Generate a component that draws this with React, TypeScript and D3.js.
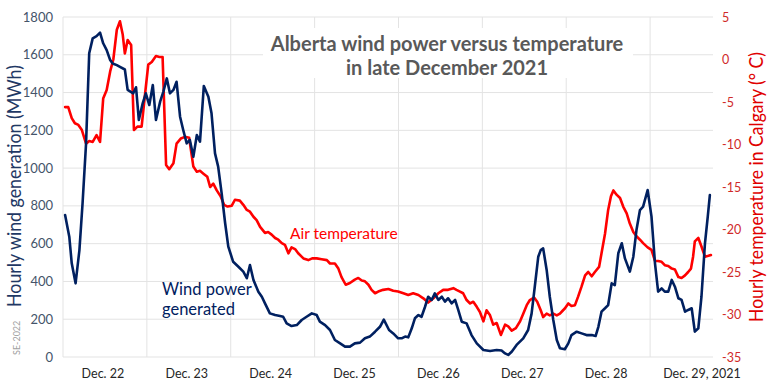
import React from "react";
import * as d3 from "d3";

// Hours since Dec 22 00:00 and wind generation (MWh)
const windHours = [0.1,1.3,2.0,3.1,4.2,5.1,6.1,7.0,8.0,9.1,10.1,11.0,12.0,13.0,13.7,14.9,15.8,17.2,18.0,18.9,19.6,20.4,21.2,22.3,23.2,24.2,25.2,26.1,27.3,28.2,29.2,30.1,31.1,32.0,33.0,33.9,34.9,35.8,36.8,37.8,38.7,39.8,41.1,42.0,43.0,43.9,44.9,45.9,46.8,48.2,49.7,51.1,52.1,53.0,54.0,55.4,56.4,57.3,58.7,60.2,61.6,62.5,63.5,64.9,66.4,67.8,69.2,70.7,72.1,73.0,74.5,75.9,77.3,78.8,80.2,81.6,83.0,84.5,85.9,87.3,88.8,90.2,91.3,92.8,94.0,95.4,96.4,97.4,98.3,99.3,100.2,101.2,102.1,103.1,104.0,105.0,105.9,106.9,107.9,108.8,109.7,110.7,111.7,112.6,113.6,115.0,116.4,117.9,119.8,121.7,123.6,125.0,126.0,126.9,127.9,129.3,131.2,132.6,133.6,134.5,135.5,136.2,136.9,137.9,138.8,139.8,140.8,141.7,143.1,144.1,145.0,146.5,147.9,149.3,150.8,151.9,152.7,153.6,154.6,155.5,156.5,157.4,158.4,159.4,160.3,161.7,162.7,163.6,164.6,165.5,166.8,167.9,168.9,169.8,170.8,171.7,172.7,173.7,174.6,175.6,176.5,177.5,178.4,179.4,180.3,181.3,182.2,183.2,184.0,184.6];
const windValues = [752,637,496,390,566,814,1131,1608,1687,1699,1717,1661,1625,1572,1554,1545,1536,1522,1414,1404,1396,1428,1255,1343,1396,1334,1440,1255,1352,1404,1475,1396,1414,1457,1272,1202,1131,1149,1060,1175,1140,1435,1378,1290,1078,1008,866,708,584,504,478,452,417,487,408,346,319,284,231,222,217,213,178,164,169,196,213,231,222,187,169,143,90,72,55,55,72,76,99,108,134,160,198,143,125,99,99,108,104,152,205,222,213,266,319,302,337,302,319,293,311,284,302,249,187,178,116,72,37,32,37,34,19,11,28,64,99,143,231,372,531,566,575,461,319,196,90,46,41,72,116,134,125,116,116,111,160,240,258,275,390,381,549,602,522,452,531,672,778,796,884,743,496,346,363,346,346,408,372,311,302,240,249,258,134,152,319,602,743,857];

// Hours since Dec 22 00:00 and air temperature in Calgary (°C)
const tempHours = [0.1,1.0,2.0,2.9,3.9,4.9,6.1,7.0,8.0,9.1,10.1,11.0,12.0,13.0,13.9,14.9,15.8,16.6,17.2,18.0,19.0,19.8,20.8,22.0,23.0,23.9,24.9,26.1,27.1,28.0,29.0,29.9,31.1,32.0,33.2,34.4,35.6,36.8,37.8,38.7,39.6,40.8,41.6,42.5,43.5,44.6,45.6,46.6,47.8,48.7,50.1,51.1,52.1,53.0,54.0,54.9,55.9,57.3,58.2,59.2,60.2,61.1,62.1,63.0,64.0,64.9,65.9,66.8,68.3,69.7,70.8,72.1,73.5,75.0,75.9,77.3,78.3,79.2,80.4,81.6,83.0,84.0,85.0,85.9,86.9,87.8,88.8,89.7,91.1,92.6,94.0,95.4,96.9,98.3,99.7,101.2,102.6,104.0,105.5,106.9,108.3,109.7,111.2,112.1,113.1,114.0,115.0,116.0,116.9,117.9,118.8,119.8,120.7,121.7,122.6,123.6,124.8,126.0,126.9,127.9,129.1,130.3,131.2,132.2,133.1,134.3,135.2,136.2,136.9,137.9,138.8,139.8,140.8,141.7,142.6,143.1,144.1,145.0,146.0,146.9,147.9,148.9,149.8,150.8,151.7,152.9,153.6,154.6,155.5,156.3,157.0,157.9,158.9,159.8,160.8,161.7,162.7,163.6,164.6,165.5,166.8,167.9,168.9,169.8,170.8,171.7,172.7,173.7,174.6,175.6,176.5,177.5,178.4,179.2,179.8,180.3,181.3,182.2,183.2,184.2,184.9];
const tempValues = [-5.6,-5.6,-6.9,-7.5,-7.7,-8.3,-9.9,-9.6,-9.7,-8.9,-9.7,-4.6,-3.6,-1.4,0.0,3.5,4.5,2.9,0.7,2.3,1.7,-8.3,-7.9,-7.9,-4.0,-0.6,-0.3,0.4,0.3,0.3,-12.4,-12.9,-12.2,-9.9,-9.3,-9.1,-9.2,-12.6,-13.2,-13.1,-13.4,-13.8,-15.0,-14.6,-15.4,-16.1,-17.1,-17.3,-17.2,-16.5,-16.6,-17.1,-17.7,-17.9,-18.5,-18.9,-19.7,-20.4,-20.3,-20.6,-21.0,-21.2,-21.6,-21.8,-22.8,-22.1,-22.3,-22.8,-23.4,-23.6,-23.4,-23.4,-23.5,-23.6,-24.0,-24.0,-24.6,-25.6,-26.5,-26.3,-25.9,-25.7,-26.0,-26.1,-26.5,-27.1,-27.5,-27.3,-27.1,-27.0,-27.2,-27.3,-27.5,-27.7,-27.5,-27.7,-28.1,-28.6,-28.1,-27.5,-27.1,-27.1,-26.9,-27.1,-27.3,-27.5,-28.3,-28.7,-28.5,-29.1,-29.7,-30.8,-29.5,-30.1,-31.2,-31.0,-32.4,-31.2,-31.4,-31.9,-31.6,-30.8,-29.9,-28.9,-28.3,-28.0,-28.5,-29.5,-30.3,-29.9,-30.1,-29.9,-30.1,-29.9,-29.5,-29.3,-28.7,-29.0,-28.9,-27.9,-26.7,-25.4,-25.0,-25.5,-25.0,-24.4,-22.8,-20.5,-17.7,-16.1,-15.4,-15.9,-16.3,-17.3,-18.1,-19.3,-20.3,-20.8,-21.2,-21.6,-22.1,-22.4,-23.7,-23.7,-23.8,-24.2,-24.3,-24.6,-24.7,-25.6,-25.7,-25.4,-25.0,-24.6,-23.2,-21.4,-21.0,-22.0,-23.2,-23.1,-23.0];

const dayLabels = ["Dec. 22", "Dec. 23", "Dec. 24", "Dec. 25", "Dec .26", "Dec. 27", "Dec. 28", "Dec. 29, 2021"];
const windTicks = [0, 200, 400, 600, 800, 1000, 1200, 1400, 1600, 1800];
const tempTicks = [-35, -30, -25, -20, -15, -10, -5, 0, 5];
const titleLines = ["Alberta wind power versus temperature", "in late December 2021"];

const W = 768, H = 382;
const left = 63, right = 713, top = 17, bottom = 357;
const font = "Lato, 'Open Sans', sans-serif";
const navy = "#002060";
const red = "#ff0000";

export default function App() {
  const x = d3.scaleLinear().domain([-0.5, 185.5]).range([left, right]);
  const yW = d3.scaleLinear().domain([0, 1800]).range([bottom, top]);
  const yT = d3.scaleLinear().domain([-35, 5]).range([bottom, top]);

  const windLine = d3.line<number>().x((_, i) => x(windHours[i])).y((d) => yW(d));
  const tempLine = d3.line<number>().x((_, i) => x(tempHours[i])).y((d) => yT(d));

  const dayBounds = d3.range(0, 8).map((k) => x(24 * k - 0.5));

  return (
    <svg width={W} height={H} style={{ position: "absolute", left: 0, top: 0, background: "#fff" }} fontFamily={font}>
      <rect x={0} y={0} width={W} height={H} fill="#fff" />
      {windTicks.map((t) => (
        <line key={"h" + t} x1={left} x2={right} y1={yW(t)} y2={yW(t)} stroke="#e3e3e3" strokeWidth={1} />
      ))}
      {dayBounds.map((bx, i) => (
        <line key={"v" + i} x1={bx} x2={bx} y1={top} y2={bottom} stroke="#e3e3e3" strokeWidth={1} />
      ))}
      <rect x={263} y={28} width={370} height={50} fill="#fff" />
      {titleLines.map((t, i) => (
        <text key={t} x={447} y={51 + i * 24} textAnchor="middle" fontSize={20} fontWeight={700} fill="#595959">{t}</text>
      ))}

      <path d={tempLine(tempValues) || ""} fill="none" stroke={red} strokeWidth={2.6} strokeLinejoin="round" strokeLinecap="round" />
      <path d={windLine(windValues) || ""} fill="none" stroke={navy} strokeWidth={2.6} strokeLinejoin="round" strokeLinecap="round" />

      {windTicks.map((t) => (
        <text key={"lt" + t} x={53} y={yW(t) + 4.5} textAnchor="end" fontSize={13} fill="#44546a">{t}</text>
      ))}
      {tempTicks.map((t) => (
        <text key={"rt" + t} x={722} y={yT(t) + 4.5} textAnchor="start" fontSize={12.5} fill="#d02a2a">{t}</text>
      ))}
      {dayLabels.map((l, i) => (
        <text key={l} x={i < 7 ? x(24 * i + 11.5) - 2 : x(24 * i + 11.5) + 10} y={378} textAnchor="middle" fontSize={12.5} fill="#262626">{l}</text>
      ))}
      <text transform="translate(21,186) rotate(-90)" textAnchor="middle" fontSize={18.5} fill="#1f3864" textLength={242} lengthAdjust="spacingAndGlyphs">Hourly wind generation (MWh)</text>
      <text transform="translate(763,187) rotate(-90)" textAnchor="middle" fontSize={18.5} fill="#e00000" textLength={270} lengthAdjust="spacingAndGlyphs">Hourly temperature in Calgary (° C)</text>
      <text x={290} y={239} fontSize={15.5} fill={red}>Air temperature</text>
      <text x={162} y={295} fontSize={16.5} fill={navy}>Wind power</text>
      <text x={162} y={315} fontSize={16.5} fill={navy}>generated</text>
      <text transform="translate(20,355) rotate(-90)" fontSize={9} fill="#a0a0a0">SE-2022</text>
    </svg>
  );
}
